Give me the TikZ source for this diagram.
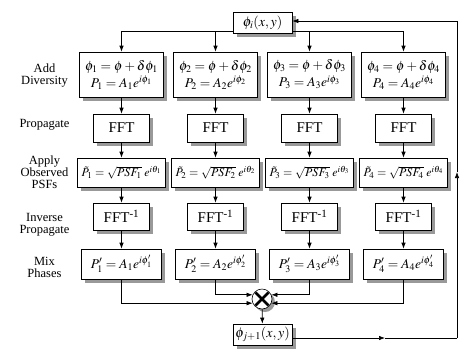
\documentclass[tikz,border=0pt]{standalone}
\usepackage{mathptmx}
\usepackage{fontspec}
\setmainfont{Liberation Serif}
\usetikzlibrary{arrows.meta,shadows,calc}
\begin{document}
\begin{tikzpicture}[x=1pt,y=-1pt,
  box/.style={draw, line width=0.7pt, fill=white, inner sep=0pt, align=center,
    drop shadow={shadow xshift=3.5pt, shadow yshift=-3.5pt, fill=black!40, opacity=1}},
  lbl/.style={align=center, font=\fontsize{12.5}{12}\selectfont},
  divbox/.style={box, minimum width=84pt, minimum height=45pt, font=\fontsize{13.5}{15}\selectfont},
  fftbox/.style={box, minimum width=56pt, minimum height=28pt, font=\fontsize{15}{16}\selectfont},
  psfbox/.style={box, minimum width=88pt, minimum height=29pt, font=\fontsize{12}{14}\selectfont},
  ifftbox/.style={box, minimum width=56pt, minimum height=27pt, font=\fontsize{15}{16}\selectfont},
  mixbox/.style={box, minimum width=80pt, minimum height=30pt, font=\fontsize{13.5}{15}\selectfont},
  phibox/.style={box, minimum width=59pt, minimum height=21pt, font=\fontsize{14}{15}\selectfont},
  arr/.style={-{Latex[length=6pt,width=4.5pt]}, line width=0.7pt},
  wire/.style={line width=0.7pt}]
\useasboundingbox (0,0) rectangle (474,349);

% left labels
\node[lbl] (l1) at (44.5,76) {Add\\Diversity};
\node[lbl] (l2) at (44.5,125) {Propagate};
\node[lbl] (l3) at (44.5,172) {Apply\\Observed\\PSFs};
\node[lbl] (l4) at (44.5,225) {Inverse\\Propagate};
\node[lbl] (l5) at (44.5,267) {Mix\\Phases};

% top box
\node[phibox] (top) at (262.5,22.5) {$\phi_i(x,y)$};

% row 1
\node[divbox] (a1) at (121.5,74.5) {$\phi_1 = \phi + \delta\phi_1$\\[2pt]$P_1 = A_1 e^{i\phi_1}$};
\node[divbox] (a2) at (215.5,74.5) {$\phi_2 = \phi + \delta\phi_2$\\[2pt]$P_2 = A_2 e^{i\phi_2}$};
\node[divbox] (a3) at (309.5,74.5) {$\phi_3 = \phi + \delta\phi_3$\\[2pt]$P_3 = A_3 e^{i\phi_3}$};
\node[divbox] (a4) at (403.5,74.5) {$\phi_4 = \phi + \delta\phi_4$\\[2pt]$P_4 = A_4 e^{i\phi_4}$};

% row 2
\node[fftbox] (f1) at (121.5,128) {FFT};
\node[fftbox] (f2) at (215.5,128) {FFT};
\node[fftbox] (f3) at (309.5,128) {FFT};
\node[fftbox] (f4) at (403.5,128) {FFT};

% row 3
\node[psfbox] (p1) at (121.5,172.5) {$\tilde{P}_1 = \sqrt{PSF_1}\;e^{i\theta_1}$};
\node[psfbox] (p2) at (215.5,172.5) {$\tilde{P}_2 = \sqrt{PSF_2}\;e^{i\theta_2}$};
\node[psfbox] (p3) at (309.5,172.5) {$\tilde{P}_3 = \sqrt{PSF_3}\;e^{i\theta_3}$};
\node[psfbox] (p4) at (403.5,172.5) {$\tilde{P}_4 = \sqrt{PSF_4}\;e^{i\theta_4}$};

% row 4
\node[ifftbox] (g1) at (121.5,216.5) {FFT\textsuperscript{-1}};
\node[ifftbox] (g2) at (215.5,216.5) {FFT\textsuperscript{-1}};
\node[ifftbox] (g3) at (309.5,216.5) {FFT\textsuperscript{-1}};
\node[ifftbox] (g4) at (403.5,216.5) {FFT\textsuperscript{-1}};

% row 5
\node[mixbox] (m1) at (121.5,264) {$P_1' = A_1 e^{i\phi_1'}$};
\node[mixbox] (m2) at (215.5,264) {$P_2' = A_2 e^{i\phi_2'}$};
\node[mixbox] (m3) at (309.5,264) {$P_3' = A_3 e^{i\phi_3'}$};
\node[mixbox] (m4) at (403.5,264) {$P_4' = A_4 e^{i\phi_4'}$};

% mixer
\node[circle, draw, line width=0.6pt, fill=white, minimum size=20pt, inner sep=0pt,
  drop shadow={shadow xshift=3pt, shadow yshift=-3pt, fill=black!40, opacity=1}] (mx) at (262,299) {};
\draw[line width=2.6pt] ($(mx.center)!0.9!(mx.45)$) -- ($(mx.center)!0.9!(mx.225)$);
\draw[line width=2.6pt] ($(mx.center)!0.9!(mx.135)$) -- ($(mx.center)!0.9!(mx.315)$);

% bottom box
\node[phibox] (bot) at (262.5,334.5) {$\phi_{j+1}(x,y)$};

% distribution from top
\draw[arr] ([yshift=2pt]top.south west) -| (a1.north);
\draw[arr] ([yshift=2pt]top.south west) -| (a2.north);
\draw[arr] ([yshift=2pt]top.south east) -| (a3.north);
\draw[arr] ([yshift=2pt]top.south east) -| (a4.north);

% column chains
\foreach \c in {1,2,3,4}{
  \draw[arr] (a\c) -- (f\c);
  \draw[arr] (f\c) -- (p\c);
  \draw[arr] (p\c) -- (g\c);
  \draw[arr] (g\c) -- (m\c);
}

% into mixer
\draw[arr] (m1.south) |- (mx.204);
\draw[arr] (m2.south) |- (mx.156);
\draw[arr] (m3.south) |- (mx.24);
\draw[arr] (m4.south) |- (mx.336);
\draw[arr] (mx) -- (bot);

% feedback loop
\coordinate (bmid) at (385,338);
\coordinate (br) at (457,338);
\coordinate (vmid) at (457,172);
\coordinate (tr) at (457,21);
\draw[arr] ([yshift=-3.5pt]bot.east) -- (bmid);
\draw[wire] (bmid) -- (br);
\draw[arr] (br) -- (vmid);
\draw[arr] (vmid) -- (tr) -- ([yshift=1.5pt]top.east);
\end{tikzpicture}
\end{document}
